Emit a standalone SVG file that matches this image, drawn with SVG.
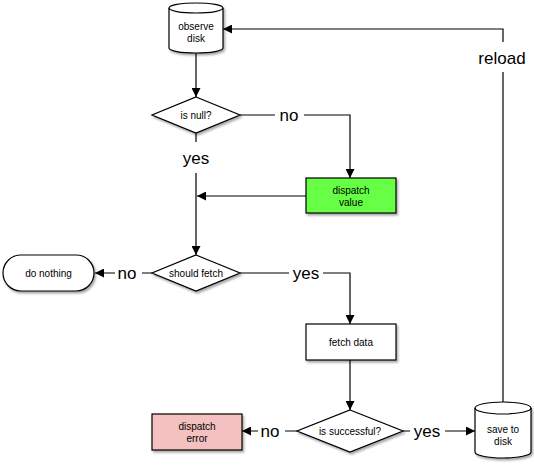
<svg xmlns="http://www.w3.org/2000/svg" width="534" height="465" viewBox="0 0 534 465">
<style>
.s{stroke:#000;stroke-width:1.2;fill:#fff}
.t{font-family:"Liberation Sans",Arial,sans-serif;font-size:10px;text-anchor:middle;fill:#000}
.l{font-family:"Liberation Sans",Arial,sans-serif;font-size:17px;text-anchor:middle;fill:#000}
.c{stroke:#000;stroke-width:1.2;fill:none}
</style>
<defs>
<filter id="sh" x="-10%" y="-10%" width="130%" height="130%">
<feDropShadow dx="1.5" dy="2" stdDeviation="1.2" flood-color="#000" flood-opacity="0.35"/>
</filter>
<marker id="a" viewBox="0 0 10 10" refX="10" refY="5" markerWidth="9" markerHeight="9" markerUnits="userSpaceOnUse" orient="auto">
<path d="M0,0 L10,5 L0,10 z" fill="#000"/>
</marker>
</defs>
<g id="connectors">
<path class="c" d="M196,53 V97" marker-end="url(#a)"/>
<path class="c" d="M240,115 H275 M304,115 H350 V178" marker-end="url(#a)"/>
<path class="c" d="M306,196 H197" marker-end="url(#a)"/>
<path class="c" d="M196,133 V142 M196,173 V255" marker-end="url(#a)"/>
<path class="c" d="M152,273 H142 M115,273 H95" marker-end="url(#a)"/>
<path class="c" d="M240,273 H289 M323,273 H350 V324" marker-end="url(#a)"/>
<path class="c" d="M350,360 V410" marker-end="url(#a)"/>
<path class="c" d="M297,431 H285 M258,431 H242" marker-end="url(#a)"/>
<path class="c" d="M403,431 H410 M445,431 H475" marker-end="url(#a)"/>
<path class="c" d="M503,402 V72 M503,42 V29 H223" marker-end="url(#a)"/>
<text class="l" x="289" y="121">no</text>
<text class="l" x="196" y="164">yes</text>
<text class="l" x="127" y="279">no</text>
<text class="l" x="306" y="279">yes</text>
<text class="l" x="270" y="437">no</text>
<text class="l" x="427" y="437">yes</text>
<text class="l" x="502" y="64">reload</text>
</g>
<g id="observe-disk">
<path class="s" filter="url(#sh)" d="M169,8 A27,5 0 0 1 223,8 V48 A27,5 0 0 1 169,48 Z"/>
<path class="c" d="M169,8 A27,5 0 0 0 223,8"/>
<text class="t" x="196" y="30">observe</text>
<text class="t" x="196" y="42">disk</text>
</g>
<g id="is-null">
<path class="s" filter="url(#sh)" d="M196,97 L240,115 L196,133 L152,115 Z"/>
<text class="t" x="196" y="119">is null?</text>
</g>
<g id="dispatch-value">
<rect class="s" filter="url(#sh)" x="306" y="178" width="90" height="35" style="fill:#66ff44"/>
<text class="t" x="351" y="194">dispatch</text>
<text class="t" x="351" y="206">value</text>
</g>
<g id="should-fetch">
<path class="s" filter="url(#sh)" d="M196,255 L240,273 L196,291 L152,273 Z"/>
<text class="t" x="196" y="277">should fetch</text>
</g>
<g id="do-nothing">
<rect class="s" filter="url(#sh)" x="3" y="255" width="91" height="36" rx="18" ry="18"/>
<text class="t" x="48.5" y="277">do nothing</text>
</g>
<g id="fetch-data">
<rect class="s" filter="url(#sh)" x="306" y="324" width="90" height="36"/>
<text class="t" x="351" y="346">fetch data</text>
</g>
<g id="is-successful">
<path class="s" filter="url(#sh)" d="M350,410 L403,431 L350,452 L297,431 Z"/>
<text class="t" x="350" y="435">is successful?</text>
</g>
<g id="dispatch-error">
<rect class="s" filter="url(#sh)" x="152" y="414" width="90" height="36" style="fill:#f5c0c0"/>
<text class="t" x="197" y="430">dispatch</text>
<text class="t" x="197" y="442">error</text>
</g>
<g id="save-to-disk">
<path class="s" filter="url(#sh)" d="M475,408 A28,6 0 0 1 531,408 V452 A28,6 0 0 1 475,452 Z"/>
<path class="c" d="M475,408 A28,6 0 0 0 531,408"/>
<text class="t" x="503" y="433">save to</text>
<text class="t" x="503" y="445">disk</text>
</g>
</svg>
